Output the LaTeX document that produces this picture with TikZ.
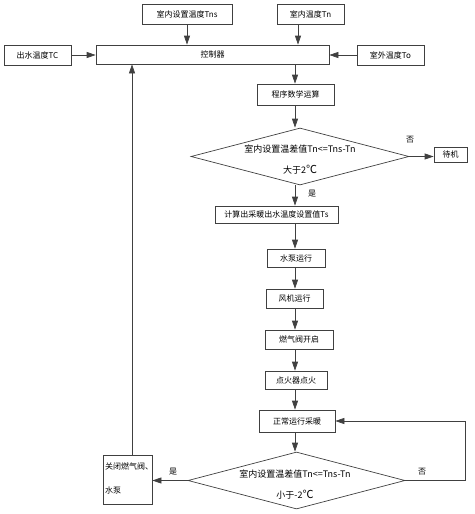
\documentclass[tikz,border=0pt]{standalone}
\usepackage{fontspec}
\setmainfont{Noto Sans CJK SC}
\usetikzlibrary{arrows.meta,shapes.geometric}
\begin{document}
\begin{tikzpicture}[x=1pt,y=-1pt,
 line/.style={draw=black!75,line width=0.7pt},
 arr/.style={line,-{Triangle[length=9pt,width=6pt]}},
 box/.style={draw=black!75,line width=0.7pt,inner sep=0pt,font=\fontsize{8}{10}\selectfont},
 dia/.style={draw=black!75,line width=0.7pt,diamond,inner sep=0pt},
 txt/.style={font=\fontsize{8}{10}\selectfont,inner sep=0pt},
 dtxt/.style={font=\fontsize{9}{11}\selectfont,inner sep=0pt},
]
\useasboundingbox (0,0) rectangle (474,514);
\coordinate (col) at (295,0);
\coordinate (loop) at (465,0);
% boxes
\node[box,minimum width=90,minimum height=20] (tns) at (187,14) {室内设置温度Tns};
\node[box,minimum width=67,minimum height=20] (tn) at (310.5,14) {室内温度Tn};
\node[box,minimum width=67,minimum height=20] (tc) at (37.5,55) {出水温度TC};
\node[box,minimum width=233,minimum height=19] (ctrl) at (212.5,54.5) {控制器};
\node[box,minimum width=67,minimum height=20] (to) at (390.5,55) {室外温度To};
\node[box,minimum width=77,minimum height=21] (prog) at (295.5,94.5) {程序数学运算};
\node[dia,minimum width=218,minimum height=57] (d1) at (300,156.5) {};
\node[dtxt] (d1a) at (300,149) {室内设置温差值Tn<=Tns-Tn};
\node[dtxt] (d1b) at (300,170) {大于2{\fontsize{11}{11}\selectfont ℃}};
\node[box,minimum width=33,minimum height=15] (standby) at (450.5,154.5) {待机};
\node[box,minimum width=123,minimum height=17] (ts) at (276.5,214.5) {计算出采暖出水温度设置值Ts};
\node[box,minimum width=58,minimum height=18] (pump) at (296,258) {水泵运行};
\node[box,minimum width=57,minimum height=19] (fan) at (294.5,298.5) {风机运行};
\node[box,minimum width=68,minimum height=19] (gas) at (299,339.5) {燃气阀开启};
\node[box,minimum width=62,minimum height=18] (ign) at (296,380) {点火器点火};
\node[box,minimum width=76,minimum height=22] (normal) at (297,421) {正常运行采暖};
\node[dia,minimum width=217,minimum height=57] (d2) at (296.5,480.5) {};
\node[dtxt] (d2a) at (295,474) {室内设置温差值Tn<=Tns-Tn};
\node[dtxt] (d2b) at (295,495) {小于-2{\fontsize{11}{11}\selectfont ℃}};
\node[box,minimum width=49,minimum height=49] (close) at (127.5,479.5) {};
\node[txt,anchor=west] (closea) at (105,466) {关闭燃气阀、};
\node[txt,anchor=west] (closeb) at (105,490) {水泵};
% labels
\node[txt] (no1) at (410,140) {否};
\node[txt] (yes1) at (312,194) {是};
\node[txt] (yes2) at (173,472) {是};
\node[txt] (no2) at (422,472) {否};
% arrows
\draw[arr] (tns.south) -- (tns.south |- ctrl.north);
\draw[arr] ([xshift=-12.5]tn.south) -- ([xshift=-12.5]tn.south |- ctrl.north);
\draw[arr] (tc.east) -- (tc.east -| ctrl.west);
\draw[arr] (to.west) -- (to.west -| ctrl.east);
\draw[arr] (col |- ctrl.south) -- (col |- prog.north);
\draw[arr] (col |- prog.south) -- (col |- d1.north);
\draw[arr] (d1.east) -- (d1.east -| standby.west);
\draw[arr] (col |- d1.south) -- (col |- ts.north);
\draw[arr] (col |- ts.south) -- (col |- pump.north);
\draw[arr] (col |- pump.south) -- (col |- fan.north);
\draw[arr] (col |- fan.south) -- (col |- gas.north);
\draw[arr] (col |- gas.south) -- (col |- ign.north);
\draw[arr] (col |- ign.south) -- (col |- normal.north);
\draw[arr] (col |- normal.south) -- (col |- d2.north);
\draw[arr] (d2.west) -- (d2.west -| close.east);
\draw[arr] (d2.east) -- (d2.east -| loop) -- (loop |- normal.east) -- (normal.east);
\draw[arr] ([xshift=4.5]close.north) -- ([xshift=4.5]close.north |- ctrl.south);
\end{tikzpicture}
\end{document}
